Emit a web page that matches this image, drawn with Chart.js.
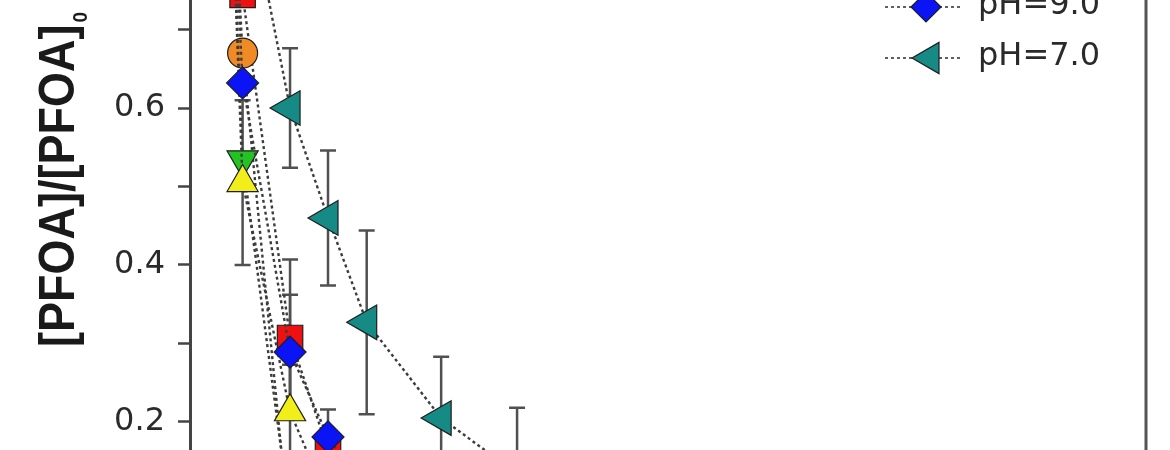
<!DOCTYPE html>
<html>
<head>
<meta charset="utf-8">
<script src="https://cdn.jsdelivr.net/npm/chart.js@4/dist/chart.umd.min.js"></script>
<style>
  html, body { margin: 0; padding: 0; background: #ffffff; overflow: hidden; }
  #wrap { width: 1170px; height: 450px; position: relative; }
</style>
</head>
<body>
<div id="wrap"><canvas id="c" width="1170" height="450"></canvas></div>
<script>
// ---- data (time axis in minutes, estimated) ----
const times      = [0, 1, 4.25, 6.85, 9.5, 14.6, 19.8, 30.3];
const redSquare  = [1.0, 0.744, 0.307, 0.165, 0.11, 0.06, 0.03, null];
const orangeCirc = [1.0, 0.670, 0.050, 0.020, 0.010, null, null, null];
const blueDiam   = [1.0, 0.632, 0.289, 0.181, 0.110, 0.060, null, null];
const greenDown  = [1.0, 0.534, 0.080, 0.030, 0.010, null, null, null];
const yellowUp   = [1.0, 0.505, 0.213, 0.100, 0.050, null, null, null];
const tealLeft   = [1.0, null, 0.600, 0.460, 0.327, 0.205, 0.134, 0.070];

const redErr     = [null, null, 0.100, null, null, null, null, null];
const blueErr    = [null, null, 0.073, 0.035, null, null, null, null];
const yellowErr  = [null, 0.105, 0.060, null, null, null, null, null];
const tealErr    = [null, null, 0.076, 0.086, 0.117, 0.078, 0.084, null];

const yTicks = [0.2, 0.4, 0.6];
const legendLabels = ['pH=9.0', 'pH=7.0'];
const yTitle = '[PFOA]/[PFOA]';
const yTitleSub = '0';

function pts(vals) {
  const out = [];
  vals.forEach((v, i) => { if (v !== null) out.push({ x: times[i], y: v }); });
  return out;
}

const lineCommon = {
  borderColor: '#3c3c3c',
  borderWidth: 2.4,
  borderDash: [3, 3],
  pointBorderColor: '#1e1e1e',
  pointBorderWidth: 1.2,
  tension: 0,
  fill: false,
  showLine: true
};

const datasets = [
  Object.assign({}, lineCommon, { label: legendLabels[0], data: pts(blueDiam), errors: blueErr, base: blueDiam,
    pointStyle: 'rectRot', pointRadius: 16, pointBackgroundColor: '#0a14f5' }),
  Object.assign({}, lineCommon, { label: legendLabels[1], data: pts(tealLeft), errors: tealErr, base: tealLeft,
    pointStyle: 'triangle', pointRotation: 270, pointRadius: 20, pointBackgroundColor: '#168a84' }),
  Object.assign({}, lineCommon, { label: '', data: pts(yellowUp), errors: yellowErr, base: yellowUp,
    pointStyle: 'triangle', pointRadius: 18, pointBackgroundColor: '#f2ee1a' }),
  Object.assign({}, lineCommon, { label: '', data: pts(greenDown), errors: null, base: greenDown,
    pointStyle: 'triangle', pointRotation: 180, pointRadius: 18, pointBackgroundColor: '#22c322' }),
  Object.assign({}, lineCommon, { label: '', data: pts(orangeCirc), errors: null, base: orangeCirc,
    pointStyle: 'circle', pointRadius: 15, pointBackgroundColor: '#f08a24' }),
  Object.assign({}, lineCommon, { label: '', data: pts(redSquare), errors: redErr, base: redSquare,
    pointStyle: 'rect', pointRadius: 18, pointBackgroundColor: '#ee1111' })
];

const bgPlugin = {
  id: 'bg',
  beforeDraw(chart) {
    const ctx = chart.ctx;
    ctx.save();
    ctx.fillStyle = '#ffffff';
    ctx.fillRect(0, 0, chart.width, chart.height);
    ctx.restore();
  }
};

const errorBars = {
  id: 'errorBars',
  beforeDatasetsDraw(chart) {
    const ctx = chart.ctx;
    const xs = chart.scales.x, ys = chart.scales.y;
    const a = chart.chartArea;
    ctx.save();
    ctx.beginPath();
    ctx.rect(a.left, a.top, a.right - a.left, a.bottom - a.top);
    ctx.clip();
    ctx.strokeStyle = '#505050';
    ctx.lineWidth = 2.5;
    chart.data.datasets.forEach(ds => {
      if (!ds.errors) return;
      ds.errors.forEach((e, i) => {
        const v = ds.base[i];
        if (e === null || v === null) return;
        const px = xs.getPixelForValue(times[i]);
        const top = ys.getPixelForValue(v + e);
        const bot = ys.getPixelForValue(v - e);
        ctx.beginPath();
        ctx.moveTo(px, top); ctx.lineTo(px, bot);
        ctx.moveTo(px - 8, top); ctx.lineTo(px + 8, top);
        ctx.moveTo(px - 8, bot); ctx.lineTo(px + 8, bot);
        ctx.stroke();
      });
    });
    ctx.restore();
  }
};

const decor = {
  id: 'decor',
  afterDraw(chart) {
    const ctx = chart.ctx;
    const a = chart.chartArea;
    // right frame line
    ctx.save();
    ctx.strokeStyle = '#555555';
    ctx.lineWidth = 3;
    ctx.beginPath();
    ctx.moveTo(a.right, 0); ctx.lineTo(a.right, chart.height);
    ctx.stroke();
    ctx.restore();

    // y-axis title (rotated, with subscript)
    ctx.save();
    ctx.fillStyle = '#1a1a1a';
    ctx.translate(74, 347);
    ctx.scale(1.1, 1);
    ctx.rotate(-Math.PI / 2);
    ctx.font = 'bold 45px "Liberation Sans", Arial, sans-serif';
    ctx.textAlign = 'left';
    ctx.textBaseline = 'alphabetic';
    ctx.fillText(yTitle, 0, 0);
    const w = ctx.measureText(yTitle).width;
    ctx.font = 'bold 19px "Liberation Sans", Arial, sans-serif';
    ctx.fillText(yTitleSub, w + 2, 12);
    ctx.restore();

    // legend (only the visible entries)
    const rows = [{ ds: chart.data.datasets[0], y: 7 }, { ds: chart.data.datasets[1], y: 58 }];
    rows.forEach(r => {
      ctx.save();
      ctx.strokeStyle = '#606060';
      ctx.lineWidth = 2.2;
      ctx.setLineDash([3, 3]);
      ctx.beginPath();
      ctx.moveTo(885, r.y); ctx.lineTo(962, r.y);
      ctx.stroke();
      ctx.setLineDash([]);
      ctx.fillStyle = r.ds.pointBackgroundColor;
      ctx.strokeStyle = r.ds.pointBorderColor;
      ctx.lineWidth = r.ds.pointBorderWidth;
      Chart.helpers.drawPoint(ctx, {
        pointStyle: r.ds.pointStyle,
        radius: r.ds.pointStyle === 'triangle' ? 18 : 15,
        rotation: r.ds.pointRotation || 0,
        borderWidth: r.ds.pointBorderWidth
      }, r.ds.pointStyle === 'triangle' ? 930 : 926, r.y);
      ctx.fillStyle = '#2a2a2a';
      ctx.font = '32px "DejaVu Sans", sans-serif';
      ctx.textAlign = 'left';
      ctx.textBaseline = 'middle';
      ctx.fillText(r.ds.label, 978, r.y - 1);
      ctx.restore();
    });
  }
};

new Chart(document.getElementById('c').getContext('2d'), {
  type: 'line',
  data: { datasets: datasets },
  options: {
    responsive: false,
    animation: false,
    devicePixelRatio: 1,
    layout: { autoPadding: false, padding: { left: 0, right: 24, top: 0, bottom: 0 } },
    plugins: { legend: { display: false }, tooltip: { enabled: false }, title: { display: false } },
    elements: { line: { tension: 0 } },
    scales: {
      x: { type: 'linear', display: false, min: -2.603, max: 62.88 },
      y: {
        type: 'linear',
        position: 'left',
        min: 0.1643,
        max: 0.7376,
        afterFit(scale) {
          scale.width = 190;
          scale.paddingTop = 0;
          scale.paddingBottom = 0;
        },
        afterBuildTicks(scale) {
          scale.ticks = [0.2, 0.3, 0.4, 0.5, 0.6, 0.7].map(v => ({ value: v }));
        },
        ticks: {
          padding: 13,
          color: '#2a2a2a',
          font: { family: '"DejaVu Sans", sans-serif', size: 32 },
          callback(v) {
            const hit = yTicks.find(t => Math.abs(t - v) < 1e-6);
            return hit !== undefined ? hit.toFixed(1) : '';
          }
        },
        grid: {
          drawOnChartArea: false,
          drawTicks: true,
          tickLength: 12,
          tickColor: '#444444',
          tickWidth: 2.5
        },
        border: { display: true, color: '#444444', width: 3 }
      }
    }
  },
  plugins: [bgPlugin, errorBars, decor]
});
</script>
</body>
</html>
